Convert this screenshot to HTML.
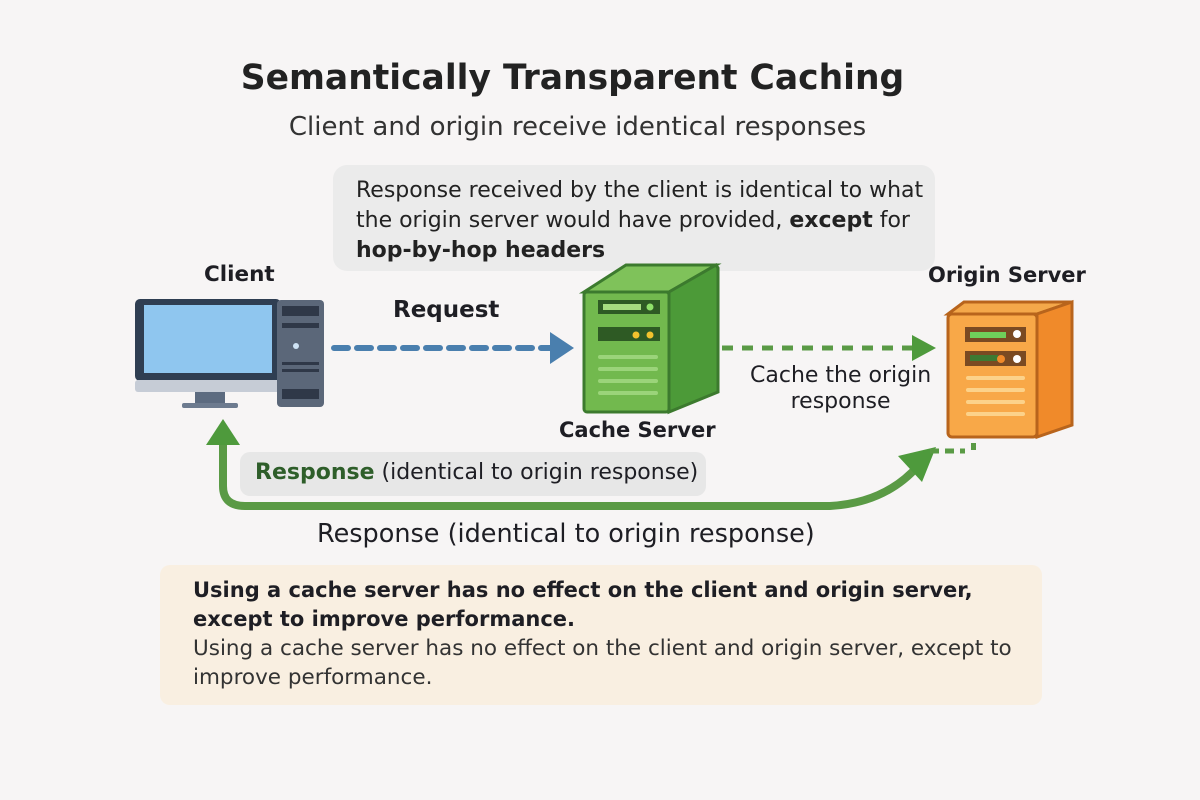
<!DOCTYPE html>
<html><head><meta charset="utf-8"><style>
body{margin:0;width:1200px;height:800px;background:#f7f5f5;font-family:"DejaVu Sans","Liberation Sans",sans-serif;overflow:hidden;position:relative;color:#1e1e24}
.t{position:absolute;white-space:nowrap}
</style></head><body>
<div class="t" style="left:0;width:1145px;text-align:center;top:58px;font-size:34.5px;font-weight:bold;color:#222">Semantically Transparent Caching</div>
<div class="t" style="left:0;width:1155px;text-align:center;top:112px;font-size:26px;color:#333">Client and origin receive identical responses</div>
<div style="position:absolute;left:333px;top:165px;width:602px;height:106px;background:#ebebeb;border-radius:14px"></div>
<div class="t" style="left:356px;top:176px;font-size:22px;line-height:30px;color:#222">Response received by the client is identical to what<br>the origin server would have provided, <b>except</b> for<br><b>hop-by-hop headers</b></div>
<div class="t" style="left:204px;top:262px;font-size:21.5px;font-weight:bold">Client</div>
<div class="t" style="left:393px;top:297px;font-size:23px;font-weight:bold">Request</div>
<div class="t" style="left:559px;top:418px;font-size:21px;font-weight:bold">Cache Server</div>
<div class="t" style="left:928px;top:263px;font-size:21px;font-weight:bold">Origin Server</div>
<div class="t" style="left:750px;top:363px;font-size:22px;line-height:26px;text-align:center">Cache the origin<br>response</div>
<div style="position:absolute;left:240px;top:452px;width:466px;height:44px;background:#e7e7e7;border-radius:10px"></div>
<div class="t" style="left:255px;top:460px;font-size:22px"><b style="color:#2e5e2a">Response</b> (identical to origin response)</div>
<div class="t" style="left:317px;top:519px;font-size:25.5px">Response (identical to origin response)</div>
<div style="position:absolute;left:160px;top:565px;width:882px;height:140px;background:#f9efe1;border-radius:10px"></div>
<div class="t" style="left:193px;top:576px;font-size:21px;line-height:29px;font-weight:bold">Using a cache server has no effect on the client and origin server,<br>except to improve performance.</div>
<div class="t" style="left:193px;top:634px;font-size:21.5px;line-height:29px;color:#333">Using a cache server has no effect on the client and origin server, except to<br>improve performance.</div>
<svg width="1200" height="800" style="position:absolute;left:0;top:0">
<rect x="135" y="299" width="146" height="82" rx="5" fill="#2f3e52"/>
<rect x="144" y="305" width="128" height="68" fill="#8fc6ef"/>
<rect x="135" y="380" width="146" height="12" rx="3" fill="#c6ccd6"/>
<rect x="195" y="392" width="30" height="11" fill="#5c6b80"/>
<rect x="182" y="403" width="56" height="5" rx="2" fill="#6d7b8f"/>
<rect x="277" y="300" width="47" height="107" rx="4" fill="#5b6779"/>
<rect x="282" y="306" width="37" height="10" fill="#2f3848"/>
<rect x="282" y="323" width="37" height="5" fill="#2f3848"/>
<circle cx="296" cy="346" r="3" fill="#cfe3f5"/>
<rect x="282" y="362" width="37" height="3" fill="#2f3848"/>
<rect x="282" y="369" width="37" height="3" fill="#2f3848"/>
<rect x="282" y="389" width="37" height="10" fill="#2f3848"/>
<line x1="334" y1="348" x2="550" y2="348" stroke="#4a7fae" stroke-width="6" stroke-dasharray="14 9" stroke-linecap="round"/>
<polygon points="550,332 574,348 550,364" fill="#4a7fae"/>
<polygon points="584,292 626,265 716,265 669,292" fill="#7fc25a" stroke="#3c7a2e" stroke-width="3"/>
<polygon points="669,292 716,265 718,268 718,392 669,412" fill="#4c9a38" stroke="#3c7a2e" stroke-width="3"/>
<rect x="584" y="292" width="85" height="120" rx="3" fill="#72b94e" stroke="#3c7a2e" stroke-width="3"/>
<rect x="598" y="300" width="62" height="14" fill="#2e5a24"/><rect x="603" y="304" width="38" height="6" fill="#a6dc80"/><circle cx="650" cy="307" r="3.5" fill="#8fe06a"/>
<rect x="598" y="327" width="62" height="14" fill="#2e5a24"/><circle cx="636" cy="335" r="3.5" fill="#f2c22e"/><circle cx="650" cy="335" r="3.5" fill="#f2c22e"/>
<g fill="#9bd47a"><rect x="598" y="355" width="60" height="4" rx="2"/><rect x="598" y="367" width="60" height="4" rx="2"/><rect x="598" y="379" width="60" height="4" rx="2"/><rect x="598" y="391" width="60" height="4" rx="2"/></g>
<line x1="722" y1="348" x2="913" y2="348" stroke="#5a9a45" stroke-width="5" stroke-dasharray="11 9"/>
<polygon points="912,335 936,348 912,361" fill="#4e9a3c"/>
<polygon points="948,314 964,302 1072,302 1037,314" fill="#f4a84a" stroke="#b8641c" stroke-width="3"/>
<polygon points="1037,314 1072,302 1072,425 1037,437" fill="#f08a2a" stroke="#b8641c" stroke-width="3"/>
<rect x="948" y="314" width="89" height="123" rx="4" fill="#f8a848" stroke="#b8641c" stroke-width="3"/>
<rect x="965" y="327" width="61" height="15" fill="#7a4a22"/><rect x="970" y="332" width="36" height="6" fill="#6fcf5a"/><circle cx="1017" cy="334" r="4" fill="#fff"/>
<rect x="965" y="351" width="61" height="15" fill="#7a4a22"/><rect x="970" y="355" width="28" height="6" fill="#3d7a32"/><circle cx="1001" cy="359" r="4" fill="#f08a2a"/><circle cx="1017" cy="359" r="4" fill="#fff"/>
<g fill="#fcd28a"><rect x="966" y="376" width="59" height="4" rx="2"/><rect x="966" y="388" width="59" height="4" rx="2"/><rect x="966" y="400" width="59" height="4" rx="2"/><rect x="966" y="412" width="59" height="4" rx="2"/></g>
<path d="M223 442 L223 486 Q223 506 245 506 L830 506 Q885 503 918 466" fill="none" stroke="#5a9a45" stroke-width="8"/>
<polygon points="206,445 223,419 240,445" fill="#4e9a3c"/>
<polygon points="898,456 936,447 922,482" fill="#4e9a3c"/>
<line x1="930" y1="451" x2="965" y2="451" stroke="#5a9a45" stroke-width="5" stroke-dasharray="9 6"/>
<rect x="971" y="443" width="5" height="7" fill="#5a9a45"/>
</svg>
</body></html>
